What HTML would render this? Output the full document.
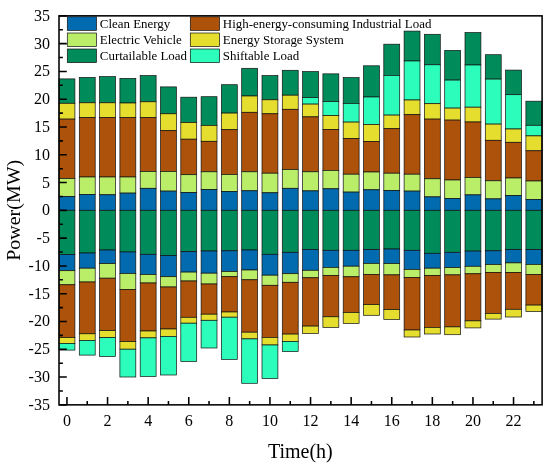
<!DOCTYPE html>
<html><head><meta charset="utf-8"><title>Power chart</title>
<style>html,body{margin:0;padding:0;background:#fff}svg{display:block}</style></head>
<body><svg width="550" height="469" viewBox="0 0 550 469">
<rect width="550" height="469" fill="#fff"/>
<g stroke="#111" stroke-width="0.7">
<rect x="59.00" y="78.90" width="15.90" height="24.40" fill="#008c5a"/>
<rect x="59.00" y="103.30" width="15.90" height="15.80" fill="#e5de2e"/>
<rect x="59.00" y="119.10" width="15.90" height="59.40" fill="#ad520a"/>
<rect x="59.00" y="178.50" width="15.90" height="18.10" fill="#baed68"/>
<rect x="59.00" y="196.60" width="15.90" height="13.70" fill="#026aae"/>
<rect x="59.00" y="210.30" width="15.90" height="44.30" fill="#008c5a"/>
<rect x="59.00" y="254.60" width="15.90" height="16.10" fill="#026aae"/>
<rect x="59.00" y="270.70" width="15.90" height="14.10" fill="#baed68"/>
<rect x="59.00" y="284.80" width="15.90" height="52.80" fill="#ad520a"/>
<rect x="59.00" y="337.60" width="15.90" height="5.80" fill="#e5de2e"/>
<rect x="59.00" y="343.40" width="15.90" height="6.70" fill="#2dfdba"/>
<rect x="79.30" y="77.40" width="15.90" height="25.40" fill="#008c5a"/>
<rect x="79.30" y="102.80" width="15.90" height="14.80" fill="#e5de2e"/>
<rect x="79.30" y="117.60" width="15.90" height="59.40" fill="#ad520a"/>
<rect x="79.30" y="177.00" width="15.90" height="17.50" fill="#baed68"/>
<rect x="79.30" y="194.50" width="15.90" height="15.80" fill="#026aae"/>
<rect x="79.30" y="210.30" width="15.90" height="42.70" fill="#008c5a"/>
<rect x="79.30" y="253.00" width="15.90" height="15.20" fill="#026aae"/>
<rect x="79.30" y="268.20" width="15.90" height="13.80" fill="#baed68"/>
<rect x="79.30" y="282.00" width="15.90" height="51.80" fill="#ad520a"/>
<rect x="79.30" y="333.80" width="15.90" height="6.60" fill="#e5de2e"/>
<rect x="79.30" y="340.40" width="15.90" height="14.70" fill="#2dfdba"/>
<rect x="99.60" y="76.60" width="15.90" height="26.20" fill="#008c5a"/>
<rect x="99.60" y="102.80" width="15.90" height="14.60" fill="#e5de2e"/>
<rect x="99.60" y="117.40" width="15.90" height="59.60" fill="#ad520a"/>
<rect x="99.60" y="177.00" width="15.90" height="17.80" fill="#baed68"/>
<rect x="99.60" y="194.80" width="15.90" height="15.50" fill="#026aae"/>
<rect x="99.60" y="210.30" width="15.90" height="39.70" fill="#008c5a"/>
<rect x="99.60" y="250.00" width="15.90" height="13.60" fill="#026aae"/>
<rect x="99.60" y="263.60" width="15.90" height="14.60" fill="#baed68"/>
<rect x="99.60" y="278.20" width="15.90" height="52.40" fill="#ad520a"/>
<rect x="99.60" y="330.60" width="15.90" height="7.00" fill="#e5de2e"/>
<rect x="99.60" y="337.60" width="15.90" height="19.00" fill="#2dfdba"/>
<rect x="119.90" y="78.40" width="15.90" height="24.60" fill="#008c5a"/>
<rect x="119.90" y="103.00" width="15.90" height="14.40" fill="#e5de2e"/>
<rect x="119.90" y="117.40" width="15.90" height="59.60" fill="#ad520a"/>
<rect x="119.90" y="177.00" width="15.90" height="16.10" fill="#baed68"/>
<rect x="119.90" y="193.10" width="15.90" height="17.20" fill="#026aae"/>
<rect x="119.90" y="210.30" width="15.90" height="41.70" fill="#008c5a"/>
<rect x="119.90" y="252.00" width="15.90" height="21.50" fill="#026aae"/>
<rect x="119.90" y="273.50" width="15.90" height="16.10" fill="#baed68"/>
<rect x="119.90" y="289.60" width="15.90" height="52.00" fill="#ad520a"/>
<rect x="119.90" y="341.60" width="15.90" height="7.60" fill="#e5de2e"/>
<rect x="119.90" y="349.20" width="15.90" height="27.80" fill="#2dfdba"/>
<rect x="140.20" y="75.60" width="15.90" height="26.20" fill="#008c5a"/>
<rect x="140.20" y="101.80" width="15.90" height="15.60" fill="#e5de2e"/>
<rect x="140.20" y="117.40" width="15.90" height="54.10" fill="#ad520a"/>
<rect x="140.20" y="171.50" width="15.90" height="16.80" fill="#baed68"/>
<rect x="140.20" y="188.30" width="15.90" height="22.00" fill="#026aae"/>
<rect x="140.20" y="210.30" width="15.90" height="44.00" fill="#008c5a"/>
<rect x="140.20" y="254.30" width="15.90" height="20.20" fill="#026aae"/>
<rect x="140.20" y="274.50" width="15.90" height="8.50" fill="#baed68"/>
<rect x="140.20" y="283.00" width="15.90" height="48.00" fill="#ad520a"/>
<rect x="140.20" y="331.00" width="15.90" height="6.90" fill="#e5de2e"/>
<rect x="140.20" y="337.90" width="15.90" height="38.60" fill="#2dfdba"/>
<rect x="160.50" y="86.90" width="15.90" height="26.90" fill="#008c5a"/>
<rect x="160.50" y="113.80" width="15.90" height="16.90" fill="#e5de2e"/>
<rect x="160.50" y="130.70" width="15.90" height="40.80" fill="#ad520a"/>
<rect x="160.50" y="171.50" width="15.90" height="19.60" fill="#baed68"/>
<rect x="160.50" y="191.10" width="15.90" height="19.20" fill="#026aae"/>
<rect x="160.50" y="210.30" width="15.90" height="45.30" fill="#008c5a"/>
<rect x="160.50" y="255.60" width="15.90" height="21.10" fill="#026aae"/>
<rect x="160.50" y="276.70" width="15.90" height="10.30" fill="#baed68"/>
<rect x="160.50" y="287.00" width="15.90" height="42.00" fill="#ad520a"/>
<rect x="160.50" y="329.00" width="15.90" height="7.40" fill="#e5de2e"/>
<rect x="160.50" y="336.40" width="15.90" height="38.60" fill="#2dfdba"/>
<rect x="180.80" y="97.20" width="15.90" height="25.30" fill="#008c5a"/>
<rect x="180.80" y="122.50" width="15.90" height="16.70" fill="#e5de2e"/>
<rect x="180.80" y="139.20" width="15.90" height="35.50" fill="#ad520a"/>
<rect x="180.80" y="174.70" width="15.90" height="17.90" fill="#baed68"/>
<rect x="180.80" y="192.60" width="15.90" height="17.70" fill="#026aae"/>
<rect x="180.80" y="210.30" width="15.90" height="41.40" fill="#008c5a"/>
<rect x="180.80" y="251.70" width="15.90" height="20.40" fill="#026aae"/>
<rect x="180.80" y="272.10" width="15.90" height="8.90" fill="#baed68"/>
<rect x="180.80" y="281.00" width="15.90" height="36.30" fill="#ad520a"/>
<rect x="180.80" y="317.30" width="15.90" height="5.90" fill="#e5de2e"/>
<rect x="180.80" y="323.20" width="15.90" height="38.30" fill="#2dfdba"/>
<rect x="201.10" y="96.70" width="15.90" height="28.70" fill="#008c5a"/>
<rect x="201.10" y="125.40" width="15.90" height="15.90" fill="#e5de2e"/>
<rect x="201.10" y="141.30" width="15.90" height="30.50" fill="#ad520a"/>
<rect x="201.10" y="171.80" width="15.90" height="17.80" fill="#baed68"/>
<rect x="201.10" y="189.60" width="15.90" height="20.70" fill="#026aae"/>
<rect x="201.10" y="210.30" width="15.90" height="40.70" fill="#008c5a"/>
<rect x="201.10" y="251.00" width="15.90" height="22.20" fill="#026aae"/>
<rect x="201.10" y="273.20" width="15.90" height="10.80" fill="#baed68"/>
<rect x="201.10" y="284.00" width="15.90" height="30.20" fill="#ad520a"/>
<rect x="201.10" y="314.20" width="15.90" height="6.10" fill="#e5de2e"/>
<rect x="201.10" y="320.30" width="15.90" height="27.70" fill="#2dfdba"/>
<rect x="221.40" y="84.70" width="15.90" height="28.40" fill="#008c5a"/>
<rect x="221.40" y="113.10" width="15.90" height="16.60" fill="#e5de2e"/>
<rect x="221.40" y="129.70" width="15.90" height="44.80" fill="#ad520a"/>
<rect x="221.40" y="174.50" width="15.90" height="17.10" fill="#baed68"/>
<rect x="221.40" y="191.60" width="15.90" height="18.70" fill="#026aae"/>
<rect x="221.40" y="210.30" width="15.90" height="40.50" fill="#008c5a"/>
<rect x="221.40" y="250.80" width="15.90" height="20.70" fill="#026aae"/>
<rect x="221.40" y="271.50" width="15.90" height="5.20" fill="#baed68"/>
<rect x="221.40" y="276.70" width="15.90" height="35.30" fill="#ad520a"/>
<rect x="221.40" y="312.00" width="15.90" height="5.20" fill="#e5de2e"/>
<rect x="221.40" y="317.20" width="15.90" height="42.20" fill="#2dfdba"/>
<rect x="241.70" y="68.30" width="15.90" height="27.70" fill="#008c5a"/>
<rect x="241.70" y="96.00" width="15.90" height="16.30" fill="#e5de2e"/>
<rect x="241.70" y="112.30" width="15.90" height="59.50" fill="#ad520a"/>
<rect x="241.70" y="171.80" width="15.90" height="19.00" fill="#baed68"/>
<rect x="241.70" y="190.80" width="15.90" height="19.50" fill="#026aae"/>
<rect x="241.70" y="210.30" width="15.90" height="39.70" fill="#008c5a"/>
<rect x="241.70" y="250.00" width="15.90" height="20.00" fill="#026aae"/>
<rect x="241.70" y="270.00" width="15.90" height="9.80" fill="#baed68"/>
<rect x="241.70" y="279.80" width="15.90" height="52.40" fill="#ad520a"/>
<rect x="241.70" y="332.20" width="15.90" height="6.70" fill="#e5de2e"/>
<rect x="241.70" y="338.90" width="15.90" height="44.40" fill="#2dfdba"/>
<rect x="262.00" y="75.60" width="15.90" height="24.20" fill="#008c5a"/>
<rect x="262.00" y="99.80" width="15.90" height="14.00" fill="#e5de2e"/>
<rect x="262.00" y="113.80" width="15.90" height="59.40" fill="#ad520a"/>
<rect x="262.00" y="173.20" width="15.90" height="19.60" fill="#baed68"/>
<rect x="262.00" y="192.80" width="15.90" height="17.50" fill="#026aae"/>
<rect x="262.00" y="210.30" width="15.90" height="44.00" fill="#008c5a"/>
<rect x="262.00" y="254.30" width="15.90" height="20.90" fill="#026aae"/>
<rect x="262.00" y="275.20" width="15.90" height="10.10" fill="#baed68"/>
<rect x="262.00" y="285.30" width="15.90" height="52.10" fill="#ad520a"/>
<rect x="262.00" y="337.40" width="15.90" height="7.60" fill="#e5de2e"/>
<rect x="262.00" y="345.00" width="15.90" height="33.50" fill="#2dfdba"/>
<rect x="282.30" y="70.30" width="15.90" height="24.90" fill="#008c5a"/>
<rect x="282.30" y="95.20" width="15.90" height="14.10" fill="#e5de2e"/>
<rect x="282.30" y="109.30" width="15.90" height="60.20" fill="#ad520a"/>
<rect x="282.30" y="169.50" width="15.90" height="18.80" fill="#baed68"/>
<rect x="282.30" y="188.30" width="15.90" height="22.00" fill="#026aae"/>
<rect x="282.30" y="210.30" width="15.90" height="42.00" fill="#008c5a"/>
<rect x="282.30" y="252.30" width="15.90" height="21.40" fill="#026aae"/>
<rect x="282.30" y="273.70" width="15.90" height="8.60" fill="#baed68"/>
<rect x="282.30" y="282.30" width="15.90" height="51.80" fill="#ad520a"/>
<rect x="282.30" y="334.10" width="15.90" height="7.30" fill="#e5de2e"/>
<rect x="282.30" y="341.40" width="15.90" height="10.20" fill="#2dfdba"/>
<rect x="302.60" y="71.60" width="15.90" height="26.00" fill="#008c5a"/>
<rect x="302.60" y="97.60" width="15.90" height="6.50" fill="#2dfdba"/>
<rect x="302.60" y="104.10" width="15.90" height="12.80" fill="#e5de2e"/>
<rect x="302.60" y="116.90" width="15.90" height="54.90" fill="#ad520a"/>
<rect x="302.60" y="171.80" width="15.90" height="19.10" fill="#baed68"/>
<rect x="302.60" y="190.90" width="15.90" height="19.40" fill="#026aae"/>
<rect x="302.60" y="210.30" width="15.90" height="39.20" fill="#008c5a"/>
<rect x="302.60" y="249.50" width="15.90" height="20.80" fill="#026aae"/>
<rect x="302.60" y="270.30" width="15.90" height="7.50" fill="#baed68"/>
<rect x="302.60" y="277.80" width="15.90" height="48.30" fill="#ad520a"/>
<rect x="302.60" y="326.10" width="15.90" height="7.40" fill="#e5de2e"/>
<rect x="322.90" y="73.85" width="15.90" height="27.75" fill="#008c5a"/>
<rect x="322.90" y="101.60" width="15.90" height="14.00" fill="#2dfdba"/>
<rect x="322.90" y="115.60" width="15.90" height="13.80" fill="#e5de2e"/>
<rect x="322.90" y="129.40" width="15.90" height="41.00" fill="#ad520a"/>
<rect x="322.90" y="170.40" width="15.90" height="18.40" fill="#baed68"/>
<rect x="322.90" y="188.80" width="15.90" height="21.50" fill="#026aae"/>
<rect x="322.90" y="210.30" width="15.90" height="40.00" fill="#008c5a"/>
<rect x="322.90" y="250.30" width="15.90" height="17.10" fill="#026aae"/>
<rect x="322.90" y="267.40" width="15.90" height="8.10" fill="#baed68"/>
<rect x="322.90" y="275.50" width="15.90" height="41.30" fill="#ad520a"/>
<rect x="322.90" y="316.80" width="15.90" height="10.60" fill="#e5de2e"/>
<rect x="343.20" y="77.60" width="15.90" height="25.80" fill="#008c5a"/>
<rect x="343.20" y="103.40" width="15.90" height="18.70" fill="#2dfdba"/>
<rect x="343.20" y="122.10" width="15.90" height="16.40" fill="#e5de2e"/>
<rect x="343.20" y="138.50" width="15.90" height="35.70" fill="#ad520a"/>
<rect x="343.20" y="174.20" width="15.90" height="17.90" fill="#baed68"/>
<rect x="343.20" y="192.10" width="15.90" height="18.20" fill="#026aae"/>
<rect x="343.20" y="210.30" width="15.90" height="40.00" fill="#008c5a"/>
<rect x="343.20" y="250.30" width="15.90" height="15.90" fill="#026aae"/>
<rect x="343.20" y="266.20" width="15.90" height="10.60" fill="#baed68"/>
<rect x="343.20" y="276.80" width="15.90" height="35.70" fill="#ad520a"/>
<rect x="343.20" y="312.50" width="15.90" height="10.90" fill="#e5de2e"/>
<rect x="363.50" y="65.80" width="15.90" height="31.20" fill="#008c5a"/>
<rect x="363.50" y="97.00" width="15.90" height="27.50" fill="#2dfdba"/>
<rect x="363.50" y="124.50" width="15.90" height="17.00" fill="#e5de2e"/>
<rect x="363.50" y="141.50" width="15.90" height="30.50" fill="#ad520a"/>
<rect x="363.50" y="172.00" width="15.90" height="17.80" fill="#baed68"/>
<rect x="363.50" y="189.80" width="15.90" height="20.50" fill="#026aae"/>
<rect x="363.50" y="210.30" width="15.90" height="39.30" fill="#008c5a"/>
<rect x="363.50" y="249.60" width="15.90" height="13.80" fill="#026aae"/>
<rect x="363.50" y="263.40" width="15.90" height="11.00" fill="#baed68"/>
<rect x="363.50" y="274.40" width="15.90" height="30.20" fill="#ad520a"/>
<rect x="363.50" y="304.60" width="15.90" height="10.70" fill="#e5de2e"/>
<rect x="383.80" y="44.20" width="15.90" height="31.20" fill="#008c5a"/>
<rect x="383.80" y="75.40" width="15.90" height="39.70" fill="#2dfdba"/>
<rect x="383.80" y="115.10" width="15.90" height="13.60" fill="#e5de2e"/>
<rect x="383.80" y="128.70" width="15.90" height="44.50" fill="#ad520a"/>
<rect x="383.80" y="173.20" width="15.90" height="17.40" fill="#baed68"/>
<rect x="383.80" y="190.60" width="15.90" height="19.70" fill="#026aae"/>
<rect x="383.80" y="210.30" width="15.90" height="38.70" fill="#008c5a"/>
<rect x="383.80" y="249.00" width="15.90" height="14.60" fill="#026aae"/>
<rect x="383.80" y="263.60" width="15.90" height="11.30" fill="#baed68"/>
<rect x="383.80" y="274.90" width="15.90" height="34.70" fill="#ad520a"/>
<rect x="383.80" y="309.60" width="15.90" height="9.80" fill="#e5de2e"/>
<rect x="404.10" y="31.10" width="15.90" height="29.90" fill="#008c5a"/>
<rect x="404.10" y="61.00" width="15.90" height="39.00" fill="#2dfdba"/>
<rect x="404.10" y="100.00" width="15.90" height="14.70" fill="#e5de2e"/>
<rect x="404.10" y="114.70" width="15.90" height="59.50" fill="#ad520a"/>
<rect x="404.10" y="174.20" width="15.90" height="16.90" fill="#baed68"/>
<rect x="404.10" y="191.10" width="15.90" height="19.20" fill="#026aae"/>
<rect x="404.10" y="210.30" width="15.90" height="40.00" fill="#008c5a"/>
<rect x="404.10" y="250.30" width="15.90" height="19.10" fill="#026aae"/>
<rect x="404.10" y="269.40" width="15.90" height="8.10" fill="#baed68"/>
<rect x="404.10" y="277.50" width="15.90" height="52.50" fill="#ad520a"/>
<rect x="404.10" y="330.00" width="15.90" height="7.00" fill="#e5de2e"/>
<rect x="424.40" y="34.30" width="15.90" height="30.50" fill="#008c5a"/>
<rect x="424.40" y="64.80" width="15.90" height="38.90" fill="#2dfdba"/>
<rect x="424.40" y="103.70" width="15.90" height="15.40" fill="#e5de2e"/>
<rect x="424.40" y="119.10" width="15.90" height="59.70" fill="#ad520a"/>
<rect x="424.40" y="178.80" width="15.90" height="18.10" fill="#baed68"/>
<rect x="424.40" y="196.90" width="15.90" height="13.40" fill="#026aae"/>
<rect x="424.40" y="210.30" width="15.90" height="43.00" fill="#008c5a"/>
<rect x="424.40" y="253.30" width="15.90" height="14.90" fill="#026aae"/>
<rect x="424.40" y="268.20" width="15.90" height="7.30" fill="#baed68"/>
<rect x="424.40" y="275.50" width="15.90" height="51.90" fill="#ad520a"/>
<rect x="424.40" y="327.40" width="15.90" height="6.60" fill="#e5de2e"/>
<rect x="444.70" y="50.40" width="15.90" height="29.70" fill="#008c5a"/>
<rect x="444.70" y="80.10" width="15.90" height="28.00" fill="#2dfdba"/>
<rect x="444.70" y="108.10" width="15.90" height="12.00" fill="#e5de2e"/>
<rect x="444.70" y="120.10" width="15.90" height="59.90" fill="#ad520a"/>
<rect x="444.70" y="180.00" width="15.90" height="18.60" fill="#baed68"/>
<rect x="444.70" y="198.60" width="15.90" height="11.70" fill="#026aae"/>
<rect x="444.70" y="210.30" width="15.90" height="42.00" fill="#008c5a"/>
<rect x="444.70" y="252.30" width="15.90" height="15.30" fill="#026aae"/>
<rect x="444.70" y="267.60" width="15.90" height="7.30" fill="#baed68"/>
<rect x="444.70" y="274.90" width="15.90" height="52.00" fill="#ad520a"/>
<rect x="444.70" y="326.90" width="15.90" height="7.80" fill="#e5de2e"/>
<rect x="465.00" y="32.60" width="15.90" height="32.40" fill="#008c5a"/>
<rect x="465.00" y="65.00" width="15.90" height="42.20" fill="#2dfdba"/>
<rect x="465.00" y="107.20" width="15.90" height="14.80" fill="#e5de2e"/>
<rect x="465.00" y="122.00" width="15.90" height="55.50" fill="#ad520a"/>
<rect x="465.00" y="177.50" width="15.90" height="17.40" fill="#baed68"/>
<rect x="465.00" y="194.90" width="15.90" height="15.40" fill="#026aae"/>
<rect x="465.00" y="210.30" width="15.90" height="40.80" fill="#008c5a"/>
<rect x="465.00" y="251.10" width="15.90" height="15.20" fill="#026aae"/>
<rect x="465.00" y="266.30" width="15.90" height="7.50" fill="#baed68"/>
<rect x="465.00" y="273.80" width="15.90" height="47.10" fill="#ad520a"/>
<rect x="465.00" y="320.90" width="15.90" height="7.00" fill="#e5de2e"/>
<rect x="485.30" y="54.70" width="15.90" height="24.40" fill="#008c5a"/>
<rect x="485.30" y="79.10" width="15.90" height="45.00" fill="#2dfdba"/>
<rect x="485.30" y="124.10" width="15.90" height="16.20" fill="#e5de2e"/>
<rect x="485.30" y="140.30" width="15.90" height="40.50" fill="#ad520a"/>
<rect x="485.30" y="180.80" width="15.90" height="18.10" fill="#baed68"/>
<rect x="485.30" y="198.90" width="15.90" height="11.40" fill="#026aae"/>
<rect x="485.30" y="210.30" width="15.90" height="40.50" fill="#008c5a"/>
<rect x="485.30" y="250.80" width="15.90" height="13.70" fill="#026aae"/>
<rect x="485.30" y="264.50" width="15.90" height="7.90" fill="#baed68"/>
<rect x="485.30" y="272.40" width="15.90" height="41.00" fill="#ad520a"/>
<rect x="485.30" y="313.40" width="15.90" height="5.70" fill="#e5de2e"/>
<rect x="505.60" y="70.10" width="15.90" height="24.60" fill="#008c5a"/>
<rect x="505.60" y="94.70" width="15.90" height="34.30" fill="#2dfdba"/>
<rect x="505.60" y="129.00" width="15.90" height="13.30" fill="#e5de2e"/>
<rect x="505.60" y="142.30" width="15.90" height="35.70" fill="#ad520a"/>
<rect x="505.60" y="178.00" width="15.90" height="17.60" fill="#baed68"/>
<rect x="505.60" y="195.60" width="15.90" height="14.70" fill="#026aae"/>
<rect x="505.60" y="210.30" width="15.90" height="39.30" fill="#008c5a"/>
<rect x="505.60" y="249.60" width="15.90" height="13.30" fill="#026aae"/>
<rect x="505.60" y="262.90" width="15.90" height="9.60" fill="#baed68"/>
<rect x="505.60" y="272.50" width="15.90" height="36.80" fill="#ad520a"/>
<rect x="505.60" y="309.30" width="15.90" height="7.70" fill="#e5de2e"/>
<rect x="525.90" y="101.20" width="15.90" height="24.10" fill="#008c5a"/>
<rect x="525.90" y="125.30" width="15.90" height="10.60" fill="#2dfdba"/>
<rect x="525.90" y="135.90" width="15.90" height="14.90" fill="#e5de2e"/>
<rect x="525.90" y="150.80" width="15.90" height="30.20" fill="#ad520a"/>
<rect x="525.90" y="181.00" width="15.90" height="18.40" fill="#baed68"/>
<rect x="525.90" y="199.40" width="15.90" height="10.90" fill="#026aae"/>
<rect x="525.90" y="210.30" width="15.90" height="39.30" fill="#008c5a"/>
<rect x="525.90" y="249.60" width="15.90" height="14.80" fill="#026aae"/>
<rect x="525.90" y="264.40" width="15.90" height="10.10" fill="#baed68"/>
<rect x="525.90" y="274.50" width="15.90" height="30.60" fill="#ad520a"/>
<rect x="525.90" y="305.10" width="15.90" height="6.40" fill="#e5de2e"/>
</g>
<rect x="59.0" y="15.85" width="483.1" height="389.0" fill="none" stroke="#000" stroke-width="1.55"/>
<path d="M59.0 15.85h7.8 M59.0 43.64h7.8 M59.0 71.42h7.8 M59.0 99.21h7.8 M59.0 126.99h7.8 M59.0 154.78h7.8 M59.0 182.56h7.8 M59.0 210.35h7.8 M59.0 238.14h7.8 M59.0 265.92h7.8 M59.0 293.71h7.8 M59.0 321.49h7.8 M59.0 349.28h7.8 M59.0 377.06h7.8 M59.0 404.85h7.8 M59.0 29.74h3.9 M59.0 57.53h3.9 M59.0 85.31h3.9 M59.0 113.10h3.9 M59.0 140.89h3.9 M59.0 168.67h3.9 M59.0 196.46h3.9 M59.0 224.24h3.9 M59.0 252.03h3.9 M59.0 279.81h3.9 M59.0 307.60h3.9 M59.0 335.39h3.9 M59.0 363.17h3.9 M59.0 390.96h3.9 M66.95 404.85v-7.8 M87.25 404.85v-3.9 M107.55 404.85v-7.8 M127.85 404.85v-3.9 M148.15 404.85v-7.8 M168.45 404.85v-3.9 M188.75 404.85v-7.8 M209.05 404.85v-3.9 M229.35 404.85v-7.8 M249.65 404.85v-3.9 M269.95 404.85v-7.8 M290.25 404.85v-3.9 M310.55 404.85v-7.8 M330.85 404.85v-3.9 M351.15 404.85v-7.8 M371.45 404.85v-3.9 M391.75 404.85v-7.8 M412.05 404.85v-3.9 M432.35 404.85v-7.8 M452.65 404.85v-3.9 M472.95 404.85v-7.8 M493.25 404.85v-3.9 M513.55 404.85v-7.8 M533.85 404.85v-3.9" stroke="#000" stroke-width="1.55" fill="none"/>
<g font-family="Liberation Serif, Times New Roman, serif" font-size="16px" fill="#000">
<text x="49.9" y="20.85" text-anchor="end">35</text>
<text x="49.9" y="48.64" text-anchor="end">30</text>
<text x="49.9" y="76.42" text-anchor="end">25</text>
<text x="49.9" y="104.21" text-anchor="end">20</text>
<text x="49.9" y="131.99" text-anchor="end">15</text>
<text x="49.9" y="159.78" text-anchor="end">10</text>
<text x="49.9" y="187.56" text-anchor="end">5</text>
<text x="49.9" y="215.35" text-anchor="end">0</text>
<text x="49.9" y="243.14" text-anchor="end">-5</text>
<text x="49.9" y="270.92" text-anchor="end">-10</text>
<text x="49.9" y="298.71" text-anchor="end">-15</text>
<text x="49.9" y="326.49" text-anchor="end">-20</text>
<text x="49.9" y="354.28" text-anchor="end">-25</text>
<text x="49.9" y="382.06" text-anchor="end">-30</text>
<text x="49.9" y="409.85" text-anchor="end">-35</text>
<text x="66.95" y="425.8" text-anchor="middle">0</text>
<text x="107.55" y="425.8" text-anchor="middle">2</text>
<text x="148.15" y="425.8" text-anchor="middle">4</text>
<text x="188.75" y="425.8" text-anchor="middle">6</text>
<text x="229.35" y="425.8" text-anchor="middle">8</text>
<text x="269.95" y="425.8" text-anchor="middle">10</text>
<text x="310.55" y="425.8" text-anchor="middle">12</text>
<text x="351.15" y="425.8" text-anchor="middle">14</text>
<text x="391.75" y="425.8" text-anchor="middle">16</text>
<text x="432.35" y="425.8" text-anchor="middle">18</text>
<text x="472.95" y="425.8" text-anchor="middle">20</text>
<text x="513.55" y="425.8" text-anchor="middle">22</text>
</g>
<g font-family="Liberation Serif, Times New Roman, serif" font-size="20px" fill="#000">
<text x="300.3" y="457.7" text-anchor="middle">Time(h)</text>
<text transform="translate(19.6 210.3) rotate(-90)" text-anchor="middle" font-size="19px" textLength="101" lengthAdjust="spacingAndGlyphs">Power(MW)</text>
</g>
<g font-family="Liberation Serif, Times New Roman, serif" font-size="12.93px" fill="#000">
<rect x="67.3" y="16.8" width="29.2" height="13.6" fill="#026aae" stroke="#111" stroke-width="0.7"/>
<text x="99.80" y="28.10">Clean Energy</text>
<rect x="67.3" y="33.0" width="29.2" height="13.6" fill="#baed68" stroke="#111" stroke-width="0.7"/>
<text x="99.80" y="44.30">Electric Vehicle</text>
<rect x="67.3" y="49.0" width="29.2" height="13.6" fill="#008c5a" stroke="#111" stroke-width="0.7"/>
<text x="99.80" y="60.30">Curtailable Load</text>
<rect x="190.3" y="16.8" width="29.2" height="13.6" fill="#ad520a" stroke="#111" stroke-width="0.7"/>
<text x="222.80" y="28.10">High-energy-consuming Industrial Load</text>
<rect x="190.3" y="33.0" width="29.2" height="13.6" fill="#e5de2e" stroke="#111" stroke-width="0.7"/>
<text x="222.80" y="44.30">Energy Storage System</text>
<rect x="190.3" y="49.0" width="29.2" height="13.6" fill="#2dfdba" stroke="#111" stroke-width="0.7"/>
<text x="222.80" y="60.30">Shiftable Load</text>
</g>
</svg></body></html>
